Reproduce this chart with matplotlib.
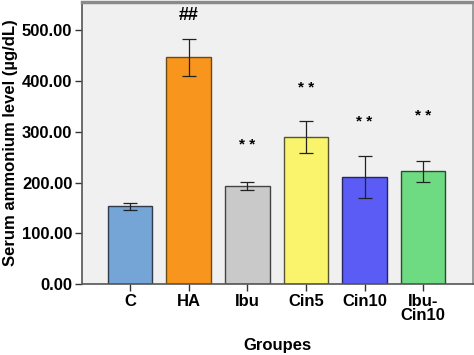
import numpy as np
import matplotlib.pyplot as plt

plt.rcParams['font.family'] = ['Liberation Sans', 'DejaVu Sans']

# --- data ---
groups = ['C', 'HA', 'Ibu', 'Cin5', 'Cin10', 'Ibu-\nCin10']
means = [153, 447, 193, 290, 211, 222]
errs = [7, 37, 8, 32, 42, 21]
marks = ['', '##', '* *', '* *', '* *', '* *']
mark_y = [0, 529, 274, 387, 320, 332]
colors = ['#74a5d6', '#f8951d', '#c9c9c9', '#f9f46c', '#5a5cf5', '#6edb82']
edges = ['#2f3b4a', '#6b4a1a', '#444444', '#555533', '#252560', '#2c4a30']

fig = plt.figure(figsize=(4.74, 3.55), dpi=100)
ax = fig.add_axes([82 / 474, 71 / 355, 391 / 474, 282 / 355])
ax.set_facecolor('#f0f0f0')

x = np.arange(len(groups))
ax.bar(x, means, width=0.76, color=colors, edgecolor=edges, linewidth=1.0, zorder=2)
ax.errorbar(x, means, yerr=errs, fmt='none', ecolor='#222222', elinewidth=0.9,
            capsize=5, capthick=0.9, zorder=3)

for xi, m, yy in zip(x, marks, mark_y):
    if not m:
        continue
    if m == '##':
        ax.text(xi, yy, m, ha='center', va='center', fontsize=13, fontweight='bold')
    else:
        ax.text(xi, yy, m, ha='center', va='center', fontsize=11, fontweight='bold')

ax.set_xlim(-0.82, 5.85)
ax.set_ylim(0, 556)
ax.set_yticks([0, 100, 200, 300, 400, 500])
ax.set_yticklabels([f'{v:.2f}' for v in [0, 100, 200, 300, 400, 500]])
ax.set_xticks(x)
ax.set_xticklabels(groups, linespacing=0.95)

for lab in ax.get_xticklabels() + ax.get_yticklabels():
    lab.set_fontweight('bold')
    lab.set_fontsize(12)
ax.tick_params(axis='both', length=5, width=1, color='#333333', pad=2)

ax.set_ylabel('Serum ammonium level (µg/dL)', fontsize=12, fontweight='bold', labelpad=3)
ax.set_xlabel('Groupes', fontsize=12, fontweight='bold', labelpad=11)

for side in ['left', 'bottom']:
    ax.spines[side].set_color('#555555')
    ax.spines[side].set_linewidth(1.2)
ax.spines['top'].set_color('#8a8a8a')
ax.spines['top'].set_linewidth(2.5)
ax.spines['right'].set_color('#8a8a8a')
ax.spines['right'].set_linewidth(1.2)

fig.savefig('out.png', dpi=100, facecolor='white')
